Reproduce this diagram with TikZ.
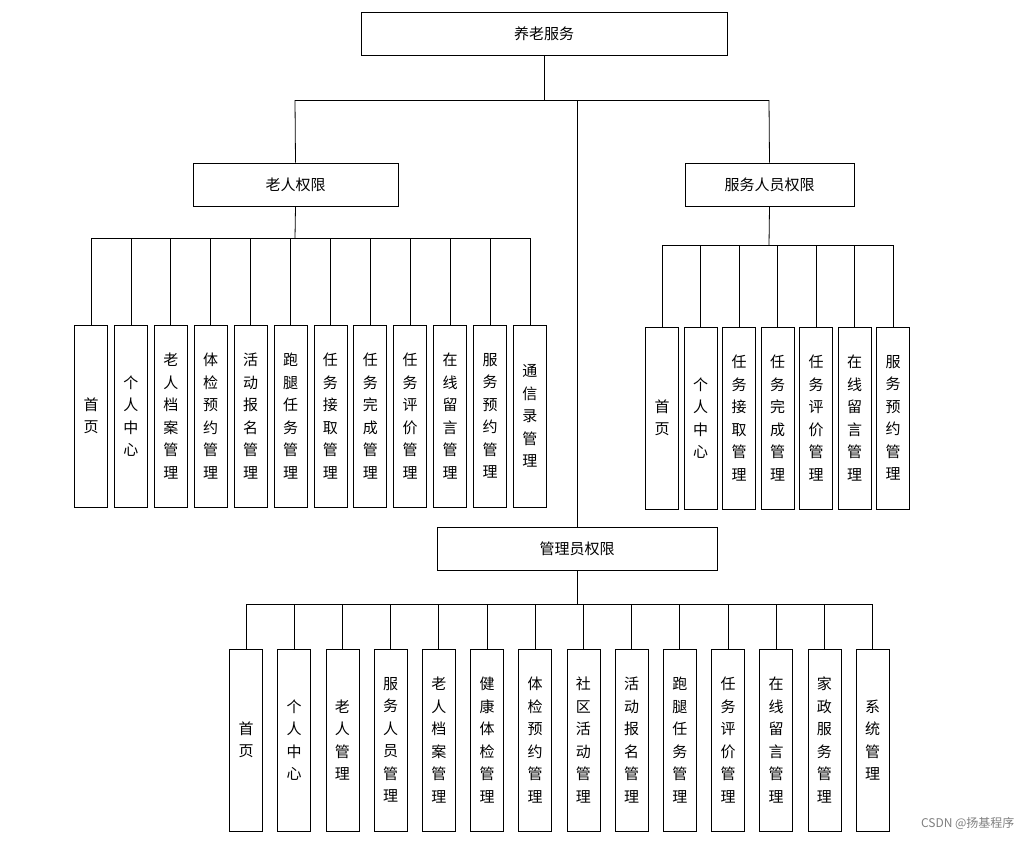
\documentclass[tikz,border=0pt]{standalone}
\usepackage{fontspec}
\setmainfont{Noto Sans CJK SC}
\begin{document}
\begin{tikzpicture}[x=1pt,y=-1pt,
  hbox/.style={draw,thick,minimum height=43pt,font=\fontsize{15}{18}\selectfont},
  vbox/.style={draw,thick,minimum width=33pt,minimum height=182pt,align=center,font=\fontsize{15}{22.5}\selectfont,inner sep=0pt},
  ln/.style={thick}]
\useasboundingbox[fill=white] (0,0) rectangle (1032,841);
\node[hbox,minimum width=366pt] (root) at (544,33.5) {养老服务};
\node[hbox,minimum width=205pt] (old) at (295.5,184.5) {老人权限};
\node[hbox,minimum width=169pt] (srv) at (769.5,184.5) {服务人员权限};
\node[hbox,minimum width=280pt] (adm) at (577,548.5) {管理员权限};
\coordinate (r1) at (544,100);
\coordinate (rl) at (295,100);
\coordinate (rr) at (769,100);
\coordinate (rm) at (577,100);
\draw[ln] (root.south) -- (r1);
\draw[ln] (rl) -- (rr);
\draw[ln] (rl) -- (old.north);
\draw[ln] (rr) -- (srv.north);
\draw[ln] (rm) -- (adm.north);
% left group
\coordinate (lb) at (295,238);
\draw[ln] (old.south) -- (lb);
\coordinate (lbL) at (91,238); \coordinate (lbR) at (530,238);
\draw[ln] (lbL) -- (lbR);
\foreach \i/\t in {0/{首\\页},1/{个\\人\\中\\心},2/{老\\人\\档\\案\\管\\理},3/{体\\检\\预\\约\\管\\理},4/{活\\动\\报\\名\\管\\理},5/{跑\\腿\\任\\务\\管\\理},6/{任\\务\\接\\取\\管\\理},7/{任\\务\\完\\成\\管\\理},8/{任\\务\\评\\价\\管\\理},9/{在\\线\\留\\言\\管\\理},10/{服\\务\\预\\约\\管\\理},11/{通\\信\\录\\管\\理}}{
  \pgfmathsetmacro\xx{91+39.9*\i}
  \node[vbox] (L\i) at (\xx,416) {\t};
  \coordinate (lt\i) at (\xx,238);
  \draw[ln] (lt\i) -- (L\i.north);
}
% right group
\coordinate (rb) at (769,245);
\draw[ln] (srv.south) -- (rb);
\coordinate (rbL) at (662,245); \coordinate (rbR) at (893,245);
\draw[ln] (rbL) -- (rbR);
\foreach \i/\t in {0/{首\\页},1/{个\\人\\中\\心},2/{任\\务\\接\\取\\管\\理},3/{任\\务\\完\\成\\管\\理},4/{任\\务\\评\\价\\管\\理},5/{在\\线\\留\\言\\管\\理},6/{服\\务\\预\\约\\管\\理}}{
  \pgfmathsetmacro\xx{662+38.5*\i}
  \node[vbox] (R\i) at (\xx,418) {\t};
  \coordinate (rt\i) at (\xx,245);
  \draw[ln] (rt\i) -- (R\i.north);
}
% admin group
\coordinate (ab) at (577,604);
\draw[ln] (adm.south) -- (ab);
\coordinate (abL) at (246,604); \coordinate (abR) at (873,604);
\draw[ln] (abL) -- (abR);
\foreach \i/\t in {0/{首\\页},1/{个\\人\\中\\心},2/{老\\人\\管\\理},3/{服\\务\\人\\员\\管\\理},4/{老\\人\\档\\案\\管\\理},5/{健\\康\\体\\检\\管\\理},6/{体\\检\\预\\约\\管\\理},7/{社\\区\\活\\动\\管\\理},8/{活\\动\\报\\名\\管\\理},9/{跑\\腿\\任\\务\\管\\理},10/{任\\务\\评\\价\\管\\理},11/{在\\线\\留\\言\\管\\理},12/{家\\政\\服\\务\\管\\理},13/{系\\统\\管\\理}}{
  \pgfmathsetmacro\xx{246+48.2*\i}
  \node[vbox] (A\i) at (\xx,740) {\t};
  \coordinate (at\i) at (\xx,604);
  \draw[ln] (at\i) -- (A\i.north);
}
\node[text=gray,font=\fontsize{12}{14}\selectfont,anchor=east] (wm) at (1018,823) {CSDN @扬基程序};
\end{tikzpicture}
\end{document}
